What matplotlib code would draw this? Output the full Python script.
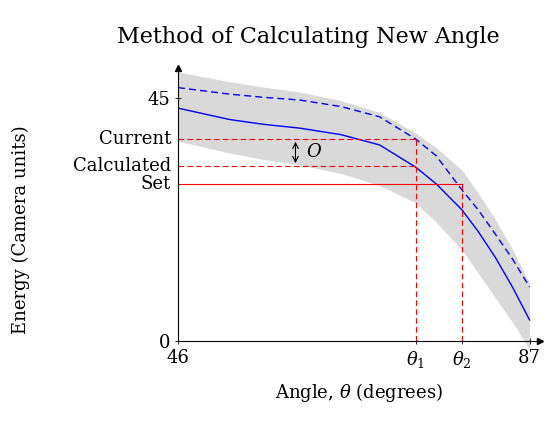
import numpy as np
import matplotlib.pyplot as plt

plt.rcParams['font.family'] = ['DejaVu Serif']
plt.rcParams['mathtext.fontset'] = 'dejavuserif'

# curves
angle = [46, 52, 56, 60.2, 65, 69.5, 73.7, 76.1, 79.1, 81, 83, 85, 87]
energy = [43.1, 41.0, 40.1, 39.4, 38.2, 36.3, 32.2, 29.1, 24.3, 20.3, 15.5, 10.0, 3.9]
energy_dash = [46.9, 45.7, 45.1, 44.6, 43.4, 41.5, 37.4, 34.3, 28.0, 24.3, 19.8, 15.2, 10.0]
band_hi = [49.8, 48.0, 47.0, 46.1, 44.5, 42.3, 38.5, 35.8, 31.7, 27.4, 22.5, 17.0, 10.7]
band_lo = [37.0, 34.8, 33.6, 32.6, 31.0, 28.8, 25.6, 22.0, 16.9, 12.6, 8.0, 3.5, -1.5]

current, calculated, set_level = 37.4, 32.4, 29.1
theta1, theta2 = 73.7, 79.1
o_x = 59.7

fig = plt.figure(figsize=(5.5, 4.26), dpi=100)
ax = fig.add_axes([0.3236, 0.174, 0.658, 0.666])
ax.set_xlim(46, 88.2)
ax.set_ylim(-2, 50.5)

ax.fill_between(angle, band_lo, band_hi, color='#d9d9d9', lw=0)
ax.plot(angle, energy, color='blue', lw=1)
ax.plot(angle, energy_dash, color='blue', lw=1, ls=(0, (5, 3)))

ax.plot([46, theta1], [current, current], color='red', lw=0.8, ls=(0, (5, 3)))
ax.plot([46, theta1], [calculated, calculated], color='red', lw=0.8, ls=(0, (5, 3)))
ax.plot([46, theta2], [set_level, set_level], color='red', lw=0.8)
ax.plot([theta1, theta1], [0, current], color='red', lw=0.8, ls=(0, (5, 3)))
ax.plot([theta2, theta2], [0, set_level], color='red', lw=0.8, ls=(0, (5, 3)))

ax.annotate('', xy=(o_x, current), xytext=(o_x, calculated),
            arrowprops=dict(arrowstyle='<->', color='black', lw=0.8))
ax.text(o_x + 1.2, (current + calculated) / 2, '$O$', fontsize=13, va='center')

for s in ['top', 'right']:
    ax.spines[s].set_visible(False)
ax.spines['bottom'].set_position(('data', 0))
ax.spines['left'].set_bounds(0, 50.5)
ax.plot(1, 0, '>k', transform=ax.get_yaxis_transform(), clip_on=False, ms=4)
ax.plot(46, 1, '^k', transform=ax.get_xaxis_transform(), clip_on=False, ms=4)

ax.set_xticks([46, theta1, theta2, 87])
ax.set_xticklabels(['46', r'$\theta_1$', r'$\theta_2$', '87'], fontsize=13)
ax.set_yticks([0, 45])
ax.set_yticklabels(['0', '45'], fontsize=13)
ax.tick_params(direction='inout', length=4, width=0.6)
for lbl, v in [('Current', current), ('Calculated', calculated), ('Set', set_level)]:
    ax.text(45.2, v, lbl, ha='right', va='center', fontsize=13)

ax.set_xlabel(r'Angle, $\theta$ (degrees)', fontsize=13, labelpad=8)
ax.set_ylabel('Energy (Camera units)', fontsize=13)
ax.yaxis.set_label_coords(-0.41, 0.43)
fig.text(0.56, 0.9, 'Method of Calculating New Angle', ha='center', fontsize=16)

fig.savefig('out.png')
